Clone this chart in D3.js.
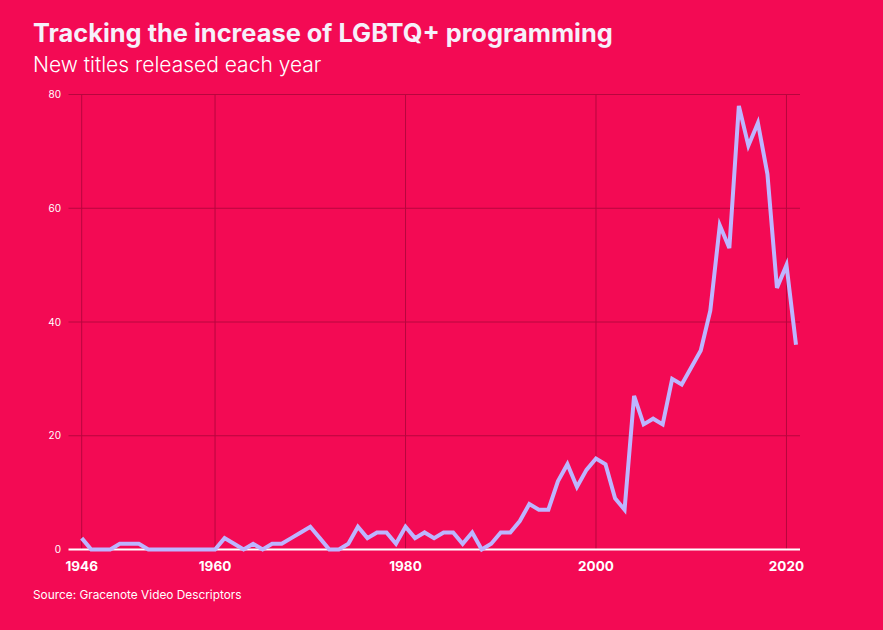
<!DOCTYPE html>
<html><head><meta charset="utf-8">
<script src="https://cdn.jsdelivr.net/npm/d3@7"></script>
<style>
html,body{margin:0;padding:0;background:#f30a54;}
svg{display:block;}
</style></head>
<body>
<script>
const years = d3.range(1946, 2022);
const titles = [
 2,0,0,0,1,1,1,0,0,0, 0,0,0,0,0,2,1,0,1,0,
 1,1,2,3,4,2,0,0,1,4, 2,3,3,1,4,2,3,2,3,3,
 1,3,0,1,3,3,5,8,7,7, 12,15,11,14,16,15,9,7,27,22,
 23,22,30,29,32,35,42,57,53,78, 71,75,66,46,50,36
];
const yTicks = [0,20,40,60,80];
const xTicks = [1946,1960,1980,2000,2020];

const W = 883, H = 630;
const bg = "#f30a54";
const svg = d3.select("body").append("svg").attr("width", W).attr("height", H);
svg.append("rect").attr("width", W).attr("height", H).attr("fill", bg);

const x = d3.scaleLinear().domain([1946, 2021]).range([81.7, 796]);
const y = d3.scaleLinear().domain([0, 80]).range([549.5, 94.5]);
const gx0 = 68.5, gx1 = 800;

svg.append("text").attr("x", 33).attr("y", 42)
  .attr("font-family", "Inter, sans-serif").attr("font-weight", 700)
  .attr("font-size", 25.4).attr("fill", "#f6f0fa")
  .text("Tracking the increase of LGBTQ+ programming");
svg.append("text").attr("x", 33).attr("y", 72)
  .attr("font-family", "Inter, sans-serif").attr("font-weight", 350)
  .attr("font-size", 21).attr("fill", "#ffffff")
  .text("New titles released each year");

const grid = svg.append("g");
grid.selectAll("line.h").data(yTicks.filter(d => d > 0)).join("line")
  .attr("x1", gx0).attr("x2", gx1)
  .attr("y1", d => y(d)).attr("y2", d => y(d))
  .attr("stroke", "#b8063e").attr("stroke-width", 1);
grid.selectAll("line.v").data(xTicks).join("line")
  .attr("x1", d => x(d)).attr("x2", d => x(d))
  .attr("y1", y(80)).attr("y2", y(0))
  .attr("stroke", "#b8063e").attr("stroke-width", 1);

svg.append("g").selectAll("text").data(yTicks).join("text")
  .attr("x", 61).attr("y", d => y(d) + 3.5)
  .attr("text-anchor", "end")
  .attr("font-family", "Inter, sans-serif").attr("font-size", 10)
  .attr("fill", "#ffffff").text(d => d);

svg.append("line").attr("x1", gx0).attr("x2", gx1)
  .attr("y1", y(0)).attr("y2", y(0))
  .attr("stroke", "#ffffff").attr("stroke-width", 2);

svg.append("g").selectAll("text").data(xTicks).join("text")
  .attr("x", d => x(d)).attr("y", 570.5)
  .attr("text-anchor", "middle")
  .attr("font-family", "Inter, sans-serif").attr("font-weight", 700)
  .attr("font-size", 13.5).attr("fill", "#ffffff").text(d => d);

const line = d3.line().x((d, i) => x(years[i])).y(d => y(d));
svg.append("path").datum(titles)
  .attr("d", line).attr("fill", "none")
  .attr("stroke", "#bdb5ff").attr("stroke-width", 4)
  .attr("stroke-linejoin", "miter").attr("stroke-linecap", "butt");

svg.append("text").attr("x", 33).attr("y", 599)
  .attr("font-family", "Inter, sans-serif").attr("font-size", 11.85)
  .attr("fill", "#ffffff").text("Source: Gracenote Video Descriptors");
</script>
</body></html>
